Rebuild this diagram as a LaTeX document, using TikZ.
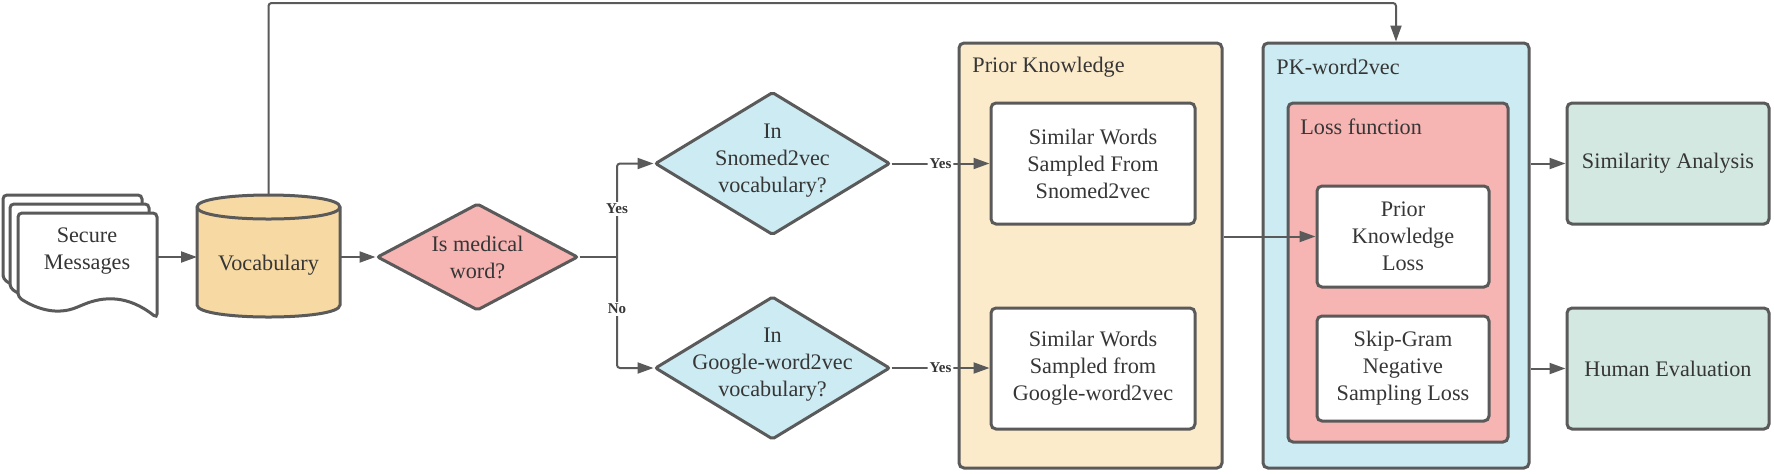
\documentclass[tikz,border=0pt]{standalone}
\usepackage{fontspec}
\setmainfont{Liberation Serif}
\newfontfamily\serf{Liberation Serif}
\usetikzlibrary{shapes.geometric,arrows.meta,calc}
\definecolor{strk}{HTML}{5A5A5A}
\definecolor{txt}{HTML}{363636}
\definecolor{cyl}{HTML}{F7D9A3}
\definecolor{pkc}{HTML}{FCEBCB}
\definecolor{pnk}{HTML}{F6B4B3}
\definecolor{blu}{HTML}{CDEBF2}
\definecolor{grn}{HTML}{D2E8E0}
\begin{document}
\begin{tikzpicture}[x=0.5pt,y=-0.5pt,
  font=\serf\fontsize{11.1}{13.5}\selectfont,
  box/.style={draw=strk, line width=1.5pt, rounded corners=2.5pt, rectangle, align=center, text=txt, inner sep=0pt},
  dia/.style={draw=strk, line width=1.5pt, diamond, inner sep=0pt, rounded corners=1pt},
  dtext/.style={align=center, text=txt, inner sep=0pt},
  conn/.style={draw=strk, line width=1pt, -{Triangle[length=8pt,width=5.5pt]}, rounded corners=1.5pt},
  plain/.style={draw=strk, line width=1pt},
  lbl/.style={fill=white, font=\serf\fontsize{7.5}{9}\bfseries\selectfont, inner sep=1pt, text=txt},
  ttl/.style={anchor=west, text=txt, inner sep=0pt},
  docsheet/.style={draw=strk, fill=white, line width=1.5pt, rounded corners=2pt}
]
\useasboundingbox (0,0) rectangle (1774,473);
\fill[white] (0,0) rectangle (1774,473);

% document stack
\foreach \dx/\dy in {-15/-18,-8/-9,0/0}{
  \begin{scope}[shift={(\dx,\dy)}]
    \path[docsheet] (18,297) -- (18,213) -- (157,213) -- (157,318)
      .. controls (128,295) and (104,296) .. (80,306)
      .. controls (58,315) and (38,310) .. (18,297) -- cycle;
  \end{scope}
}
\node[dtext] (msg) at (87,251) {Secure\\Messages};
\coordinate (docR) at (157,257);

% vocabulary cylinder
\filldraw[draw=strk, fill=cyl, line width=1.5pt]
  (197,207) -- (197,305) .. controls (197,321) and (340,321) .. (340,305)
  -- (340,207) .. controls (340,191) and (197,191) .. (197,207) -- cycle;
\draw[draw=strk, line width=1.5pt] (197,207) .. controls (197,223) and (340,223) .. (340,207);
\node[dtext] (vocab) at (268.5,265) {Vocabulary};
\coordinate (vL) at (197,257);
\coordinate (vR) at (340,257);
\coordinate (vT) at (268.5,195);
\coordinate (topY) at (0,3);

% diamonds
\node[dia, fill=pnk, minimum width=100.5pt, minimum height=53.5pt] (med) at (477.5,257) {};
\node[dtext] (medt) at (477.5,257) {Is medical\\word?};
\node[dia, fill=blu, minimum width=117.5pt, minimum height=71.5pt] (sno) at (772.5,163.5) {};
\node[dtext] (snot) at (772.5,160.5) {In\\Snomed2vec\\vocabulary?};
\node[dia, fill=blu, minimum width=117.5pt, minimum height=71.5pt] (goo) at (772.5,368) {};
\node[dtext] (goot) at (772.5,365) {In\\Google-word2vec\\vocabulary?};

% Prior knowledge container
\node[box, fill=pkc, minimum width=131.5pt, minimum height=212.5pt] (pk) at (1090.5,255.5) {};
\node[ttl] (pkt) at (972,67) {Prior Knowledge};
\node[box, fill=white, minimum width=102pt, minimum height=60.5pt] (sw1) at (1093,163.5) {Similar Words\\Sampled From\\Snomed2vec};
\node[box, fill=white, minimum width=102pt, minimum height=60.5pt] (sw2) at (1093,368.5) {Similar Words\\Sampled from\\Google-word2vec};

% PK-word2vec container
\node[box, fill=blu, minimum width=133pt, minimum height=212.5pt] (pkw) at (1396,255.5) {};
\node[ttl] (pkwt) at (1276,67) {PK-word2vec};
\node[box, fill=pnk, minimum width=110pt, minimum height=169.5pt] (loss) at (1398,272.5) {};
\node[ttl] (losst) at (1300,127) {Loss function};
\node[box, fill=white, minimum width=86pt, minimum height=50.5pt] (pkl) at (1403,236.5) {Prior\\Knowledge\\Loss};
\node[box, fill=white, minimum width=86pt, minimum height=52.5pt] (sg) at (1403,368.5) {Skip-Gram\\Negative\\Sampling Loss};

% outputs
\node[box, fill=grn, minimum width=101pt, minimum height=60.5pt] (sim) at (1668,163.5) {Similarity Analysis};
\node[box, fill=grn, minimum width=101pt, minimum height=60.5pt] (hum) at (1668,368.5) {Human Evaluation};

% connectors
\draw[conn] (docR) -- (vL);
\draw[conn] (vR) -- (med.west);
\draw[conn] (vT) -- (vT |- topY) -- (pkw.north |- topY) -- (pkw.north);
\coordinate (br) at (617,257);
\draw[plain] (med.east) -- (br);
\draw[conn] (br) |- (sno.west);
\draw[conn] (br) |- (goo.west);
\node[lbl] (yes1) at (617,209) {Yes};
\node[lbl] (no1) at (617,309) {No};
\draw[conn] (sno.east) -- (sno.east -| sw1.west) node[midway, lbl] (yes2) {Yes};
\draw[conn] (goo.east) -- (goo.east -| sw2.west) node[midway, lbl] (yes3) {Yes};
\draw[conn] (pk.east |- pkl.west) -- (pkl.west);
\draw[conn] (pkw.east |- sim.west) -- (sim.west);
\draw[conn] (pkw.east |- hum.west) -- (hum.west);
\end{tikzpicture}
\end{document}
